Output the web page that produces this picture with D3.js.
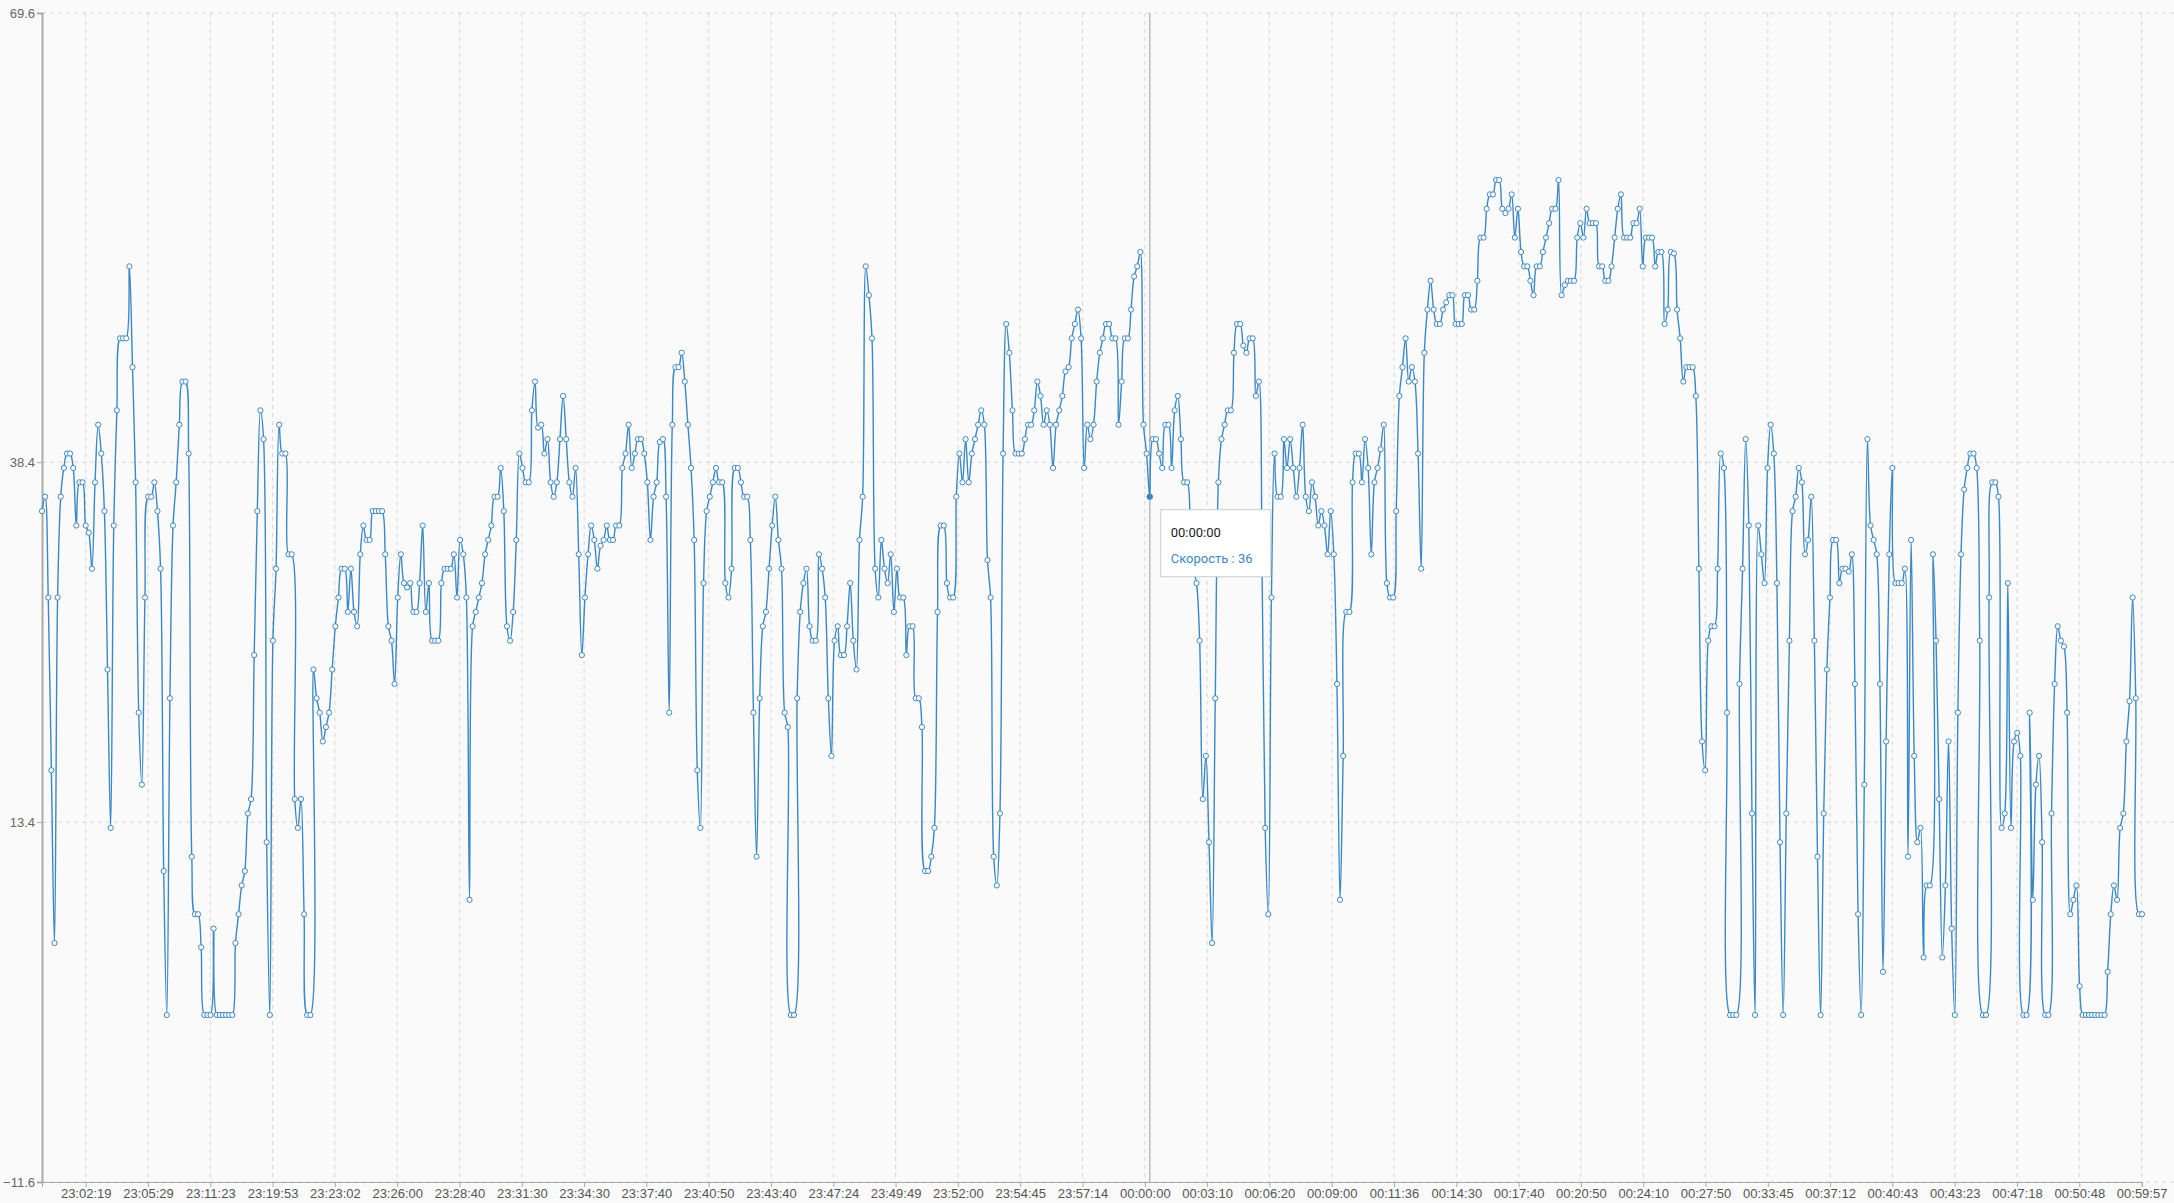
<!DOCTYPE html>
<html><head><meta charset="utf-8">
<script src="https://cdn.jsdelivr.net/npm/d3@7"></script>
<style>body{margin:0;background:#fafafa;font-family:Roboto,"Noto Sans",sans-serif}</style>
</head><body><svg id="c" width="2174" height="1203"></svg>
<script>
const seg1=[35,36,29,17,5,29,36,38,39,39,38,34,37,37,34,33.5,31,37,41,39,35,24,13,34,42,47,47,47,52,45,37,21,16,29,36,36,37,35,31,10,0,22,34,37,41,44,44,39,11,7,7,4.7,0,0,0,6,0,0,0,0,0,0,5];
const seg2=[7,9,10,14,15,25,35,42,40,12,0,26,31,41,39,39,32,32,15,13,15,7,0,0,24,22,21,19,20,21,24,27,29,31,31,28,31,28,27,32,34,33,33,35,35,35,35,32,27,26,23,29,32,30,29.7,30,28,28,30,34,28];
const seg3=[30,26,26,26,30,31,31,31,32,29,33,32,29,8,27,28,29,30,32,33,34,36,36,38,35,27,26,28,33,39,38,37,37,42,44,40.8,41,39,40,37,36,37,40,43,40,37,36,38,32,25,29,32,34,33,31,32.6,33,34,33,33,34,34];
const seg4=[38,39,41,38,39,40,40,39,37,33,36,37,39.8,40,36,21,41,45,45,46,44,41,38,33,17,13,30,35,36,37,38,37,37,30,29,31,38,38,37,36,36,33,21,11,22,27,28,31,34,36,33,31,21,20,0,0,22,28,30,31,27,26];
const seg5=[26,32,31,29,22,18,26,27,25,25,27,30,26,24,33,36,52,50,47,31,29,33,31,30,32,28,31,29,29,25,27,27,22,22,20,10,10,11,13,28,34,34,30,29,29,36,39,37,40,37,39,40,41,42,41,31.6,29,11,9,14,39,48,46];
const seg6=[42,39,39,39,40,41,41,42,44,43,41,42,41,38,41,42,43,44.7,45,47,48,49,47,38,41,40,41,44,46,47,48,48,47,47,41,44,47,47,49,51.3,52,53,41,39,36,40,40,39,38,41,41,38,42,43,40,37,37,34,31];
const seg7=[30,26,15,18,12,5,22,37,40,41,42,42,46,48,48,46.5,46,47,47,43,44,31,13,7,29,39,36,36,40,38,40,38,36,38,41,36,35,37,36,34,35,34,32,35,32,23,8,18,28,28,37,39,39,37,40,38,32,37,38,39.3,41];
const seg8=[30,29,29,35,43,45,47,44,45,44,39,31,46,49,51,49,48,48,49,49.5,50,50,48,48,48,50,50,49,49,51,54,54,56,57,57,58,58,56,55.7,56,57,54,56,53,52,52,51,50,52,52,53,54,55,56,56,58,50,50.7,51,51,51];
const seg9=[54,55,54,56,55,55,55,52,52,51,51,52,54,56,57,54,54,54,55,55,56,52,54,54,54,52,53,53,48,49,53,52.9,49,47,44,45,45,45,43,31,19,17,26,27,27,31,39,38,21,0,0,0,23,31,40,34,14,0,34,32,30,38];
const seg10=[41,39,30,12,0,14,26,35,36,38,37,32,33,36,26,11,0,14,24,29,33,33,30,31,31,30.8,32,23,7,0,16,40,34,33,32,23,3,19,32,38,30,30,30,31,11,33,18,12,13,4,9,9,32,26,15,4,9,19,6,0,21,32];
const seg11=[36.5,38,39,39,38,26,0,0,29,37,37,36,13,14,30,13,19,19.6,18,0,0,21,8,16,18,12,0,0,14,23,27,26,25.6,21,7,8,9,2,0,0,0,0,0,0,0,0,3,7,9,8,13,14,19,21.8,29,22,7,7];
const speed=[].concat(seg1,seg2,seg3,seg4,seg5,seg6,seg7,seg8,seg9,seg10,seg11);
const tickLabels=["23:02:19","23:05:29","23:11:23","23:19:53","23:23:02","23:26:00","23:28:40","23:31:30","23:34:30","23:37:40","23:40:50","23:43:40","23:47:24","23:49:49","23:52:00","23:54:45","23:57:14","00:00:00","00:03:10","00:06:20","00:09:00","00:11:36","00:14:30","00:17:40","00:20:50","00:24:10","00:27:50","00:33:45","00:37:12","00:40:43","00:43:23","00:47:18","00:50:48","00:59:57"];
const yTicks=[69.6,38.4,13.4,-11.6];
const seriesName="Скорость";

const svg=d3.select("#c");
const N=speed.length;
const x=d3.scaleLinear().domain([0,N-1]).range([42,2142]);
const y=d3.scaleLinear().domain([-11.6,69.6]).range([1182,13]);
const tickIdx=tickLabels.map((_,k)=>x.invert(85.7+62.3*k));
svg.append("rect").attr("width",2174).attr("height",1203).attr("fill","#fafafa");
const g=svg.append("g");
g.selectAll(".hg").data(yTicks).join("line").attr("x1",42).attr("x2",2174)
 .attr("y1",d=>y(d)).attr("y2",d=>y(d)).attr("stroke","#d6d6d6").attr("stroke-dasharray","4,4");
g.selectAll(".vg").data(tickIdx).join("line").attr("x1",d=>x(d)).attr("x2",d=>x(d))
 .attr("y1",13).attr("y2",1182).attr("stroke","#d6d6d6").attr("stroke-dasharray","4,4");
const yAx=g.append("g").attr("transform","translate(42,0)")
 .call(d3.axisLeft(y).tickValues(yTicks).tickFormat(d3.format(".1f")).tickSize(5));
yAx.select(".domain").attr("stroke","#aaa").attr("stroke-width",2);
yAx.selectAll(".tick line").attr("stroke","#aaa");
yAx.selectAll("text").attr("fill","#666").style("font-size","13px").attr("x",-7);
const xAx=g.append("g").attr("transform","translate(0,1182)")
 .call(d3.axisBottom(x).tickValues(tickIdx).tickFormat((d,i)=>tickLabels[i]).tickSize(5));
xAx.select(".domain").attr("stroke","#aaa");
xAx.selectAll(".tick line").attr("stroke","#aaa");
xAx.selectAll("text").attr("fill","#555").style("font-size","13px").attr("y",7).attr("dy","0.71em");
const hi=Math.round(tickIdx[17])+2;
g.append("line").attr("x1",x(hi)).attr("x2",x(hi)).attr("y1",13).attr("y2",1182).attr("stroke","#bbb").attr("stroke-width",1.5);
const line=d3.line().x((d,i)=>x(i)).y(d=>y(d)).curve(d3.curveCatmullRom.alpha(0.5));
g.append("path").datum(speed).attr("d",line).attr("fill","none").attr("stroke","#3a88c8").attr("stroke-width",1.4);
g.selectAll(".pt").data(speed).join("circle").attr("cx",(d,i)=>x(i)).attr("cy",d=>y(d)).attr("r",2.6)
 .attr("fill","#fff").attr("stroke","#3a88c8").attr("stroke-width",1);
g.append("circle").attr("cx",x(hi)).attr("cy",y(speed[hi])).attr("r",3).attr("fill","#3a88c8");
const tx=x(hi)+11, ty=y(speed[hi])+13;
const tt=g.append("g").attr("transform",`translate(${tx},${ty})`);
tt.append("rect").attr("width",110).attr("height",67).attr("fill","#fff").attr("stroke","#ccc");
tt.append("text").attr("x",10).attr("y",27).attr("fill","#222").style("font-size","13px").text(tickLabels[17]);
tt.append("text").attr("x",10).attr("y",53).attr("fill","#3a88c8").style("font-size","13px").text(seriesName+" : "+speed[hi]);
</script></body></html>
